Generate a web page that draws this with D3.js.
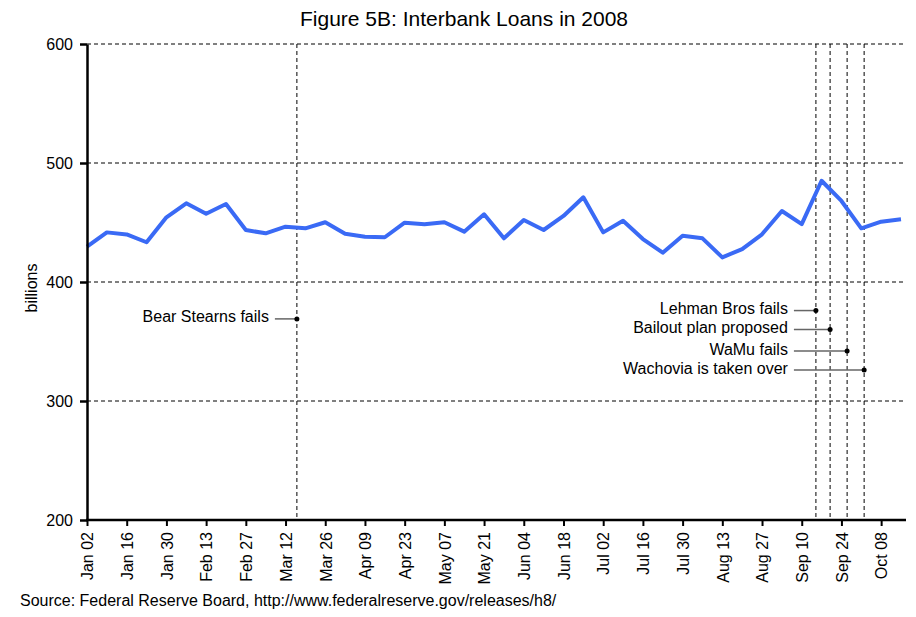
<!DOCTYPE html>
<html>
<head>
<meta charset="utf-8">
<script src="https://cdn.jsdelivr.net/npm/d3@7"></script>
<style>
  body { margin: 0; background: #fff; }
  svg { display: block; font-family: "Liberation Sans", Arial, sans-serif; }
</style>
</head>
<body>
<div id="chart"></div>
<script>
// weekly interbank loans, billions
var weekDates = ["2008-01-02","2008-01-09","2008-01-16","2008-01-23","2008-01-30","2008-02-06","2008-02-13",
  "2008-02-20","2008-02-27","2008-03-05","2008-03-12","2008-03-19","2008-03-26","2008-04-02","2008-04-09",
  "2008-04-16","2008-04-23","2008-04-30","2008-05-07","2008-05-14","2008-05-21","2008-05-28","2008-06-04",
  "2008-06-11","2008-06-18","2008-06-25","2008-07-02","2008-07-09","2008-07-16","2008-07-23","2008-07-30",
  "2008-08-06","2008-08-13","2008-08-20","2008-08-27","2008-09-03","2008-09-10","2008-09-17","2008-09-24",
  "2008-10-01","2008-10-08","2008-10-15"];
var loans = [429.7, 441.7, 440.0, 433.4, 454.4, 466.1, 457.4, 465.5, 443.7, 440.9, 446.5, 445.1, 450.2, 440.6,
  438.1, 437.6, 449.8, 448.5, 450.2, 442.3, 456.9, 436.7, 452.1, 443.7, 455.5, 471.2, 441.7, 451.5, 436.1,
  424.6, 438.9, 436.7, 420.7, 427.7, 440.1, 459.7, 448.7, 485.1, 468.1, 445.1, 450.7, 452.7];

// events marked with dashed lines
var eventDates = ["2008-03-16", "2008-09-15", "2008-09-20", "2008-09-26", "2008-10-02"];
var eventLabels = ["Bear Stearns fails", "Lehman Bros fails", "Bailout plan proposed", "WaMu fails", "Wachovia is taken over"];
var eventLevels = [369, 376, 360, 342, 326];

var yTicks = [200, 300, 400, 500, 600];

var width = 916, height = 617;
var margin = {top: 44, right: 13, bottom: 97, left: 87};
var fontSize = "16px";

var parse = d3.timeParse("%Y-%m-%d");
var data = weekDates.map((d, i) => ({date: parse(d), value: loans[i]}));
var events = eventDates.map((d, i) => ({date: parse(d), label: eventLabels[i], level: eventLevels[i]}));

var svg = d3.select("#chart").append("svg")
    .attr("width", width)
    .attr("height", height);

svg.append("rect").attr("width", width).attr("height", height).attr("fill", "#fff");

var x = d3.scaleTime()
    .domain([data[0].date, data[data.length - 1].date])
    .range([margin.left, 901]);

var y = d3.scaleLinear()
    .domain([200, 600])
    .range([height - margin.bottom, margin.top]);

var xRight = width - margin.right + 2;

// title
svg.append("text")
    .attr("x", 464)
    .attr("y", 26)
    .attr("text-anchor", "middle")
    .style("font-size", "21px")
    .text("Figure 5B: Interbank Loans in 2008");

// dashed horizontal grid
svg.append("g")
  .selectAll("line")
  .data(yTicks.filter(d => d > 200))
  .join("line")
    .attr("x1", margin.left)
    .attr("x2", xRight)
    .attr("y1", d => y(d))
    .attr("y2", d => y(d))
    .attr("stroke", "#000")
    .attr("stroke-width", 1)
    .attr("stroke-dasharray", "4,3");

// dashed event lines
svg.append("g")
  .selectAll("line")
  .data(events)
  .join("line")
    .attr("x1", d => x(d.date))
    .attr("x2", d => x(d.date))
    .attr("y1", y(600))
    .attr("y2", y(200))
    .attr("stroke", "#000")
    .attr("stroke-width", 1)
    .attr("stroke-dasharray", "4,3");

// the series
svg.append("path")
    .datum(data)
    .attr("fill", "none")
    .attr("stroke", "#3a6af5")
    .attr("stroke-width", 4)
    .attr("stroke-linejoin", "round")
    .attr("d", d3.line().x(d => x(d.date)).y(d => y(d.value)));

// annotations: labels in a cluster line up to the left of the first event of the cluster
events.forEach(function(e, i) {
  var first = events.find(f => e.date - f.date < 30 * 864e5 && e.date >= f.date);
  var textEnd = x(first.date) - 28;
  var g = svg.append("g");
  g.append("line")
      .attr("x1", textEnd + 6)
      .attr("x2", x(e.date))
      .attr("y1", y(e.level))
      .attr("y2", y(e.level))
      .attr("stroke", "#666")
      .attr("stroke-width", 1.5);
  g.append("circle")
      .attr("cx", x(e.date))
      .attr("cy", y(e.level))
      .attr("r", 2.5)
      .attr("fill", "#000");
  g.append("text")
      .attr("x", textEnd)
      .attr("y", y(e.level) - 2)
      .attr("dy", "0.35em")
      .attr("text-anchor", "end")
      .style("font-size", fontSize)
      .text(e.label);
});

// y axis
var yAxis = svg.append("g")
    .attr("transform", `translate(${margin.left},0)`)
    .call(d3.axisLeft(y).tickValues(yTicks).tickSize(7).tickPadding(7).tickSizeOuter(0));
yAxis.select(".domain").attr("stroke-width", 2.5);
yAxis.selectAll(".tick line").attr("stroke-width", 2.5);
yAxis.selectAll(".tick text")
    .style("font-size", fontSize)
    .style("font-family", "Liberation Sans, Arial, sans-serif")
    .attr("fill", "#000");

// x axis
var xTicks = data.filter((d, i) => i % 2 === 0).map(d => d.date);
var xAxis = svg.append("g")
    .attr("transform", `translate(0,${y(200)})`)
    .call(d3.axisBottom(x).tickValues(xTicks).tickFormat(d3.timeFormat("%b %d")).tickSize(6).tickSizeOuter(0));
xAxis.select(".domain").remove();
xAxis.append("line")
    .attr("x1", margin.left - 1)
    .attr("x2", xRight + 1)
    .attr("stroke", "#000")
    .attr("stroke-width", 2.5);
xAxis.selectAll(".tick line").attr("stroke-width", 2);
xAxis.selectAll(".tick text")
    .attr("transform", "rotate(-90)")
    .attr("text-anchor", "end")
    .attr("x", -12)
    .attr("y", 0)
    .attr("dy", "0.36em")
    .attr("fill", "#000")
    .style("font-size", fontSize)
    .style("font-family", "Liberation Sans, Arial, sans-serif");

// y label
svg.append("text")
    .attr("transform", `translate(37,288) rotate(-90)`)
    .attr("text-anchor", "middle")
    .style("font-size", fontSize)
    .text("billions");

// source note
svg.append("text")
    .attr("x", 20)
    .attr("y", 606)
    .style("font-size", fontSize)
    .text("Source: Federal Reserve Board, http://www.federalreserve.gov/releases/h8/");
</script>
</body>
</html>
